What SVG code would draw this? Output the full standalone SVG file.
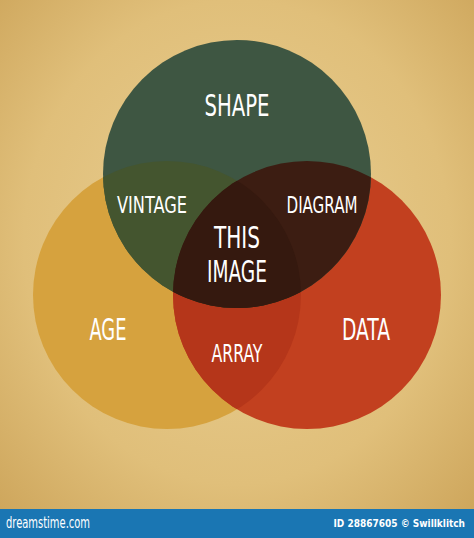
<svg xmlns="http://www.w3.org/2000/svg" width="474" height="538" viewBox="0 0 474 538">
  <defs>
    <radialGradient id="bg" cx="0.5" cy="0.45" r="0.75">
      <stop offset="0" stop-color="#e9cf93"/>
      <stop offset="0.6" stop-color="#e0bf7a"/>
      <stop offset="1" stop-color="#cba257"/>
    </radialGradient>
    <clipPath id="cG"><circle cx="237" cy="174" r="134"/></clipPath>
    <clipPath id="cY"><circle cx="167" cy="295" r="134"/></clipPath>
    <clipPath id="cR"><circle cx="307" cy="295" r="134"/></clipPath>
  </defs>
  <style>
    .lbl { font-family: "DejaVu Sans Condensed", "Liberation Sans Narrow", "DejaVu Sans", sans-serif; font-stretch: condensed; fill: #ffffff; text-anchor: middle; }
  </style>
  <rect width="474" height="538" fill="url(#bg)"/>

  <g id="age-circle">
    <circle cx="167" cy="295" r="134" fill="#d6a23e"/>
  </g>
  <g id="data-circle">
    <circle cx="307" cy="295" r="134" fill="#c2401f"/>
  </g>
  <g id="shape-circle">
    <circle cx="237" cy="174" r="134" fill="#3e5642"/>
  </g>
  <g id="array-overlap">
    <g clip-path="url(#cY)"><circle cx="307" cy="295" r="134" fill="#b5361a"/></g>
  </g>
  <g id="vintage-overlap">
    <g clip-path="url(#cY)"><circle cx="237" cy="174" r="134" fill="#44552f"/></g>
  </g>
  <g id="diagram-overlap">
    <g clip-path="url(#cR)"><circle cx="237" cy="174" r="134" fill="#3c1d12"/></g>
  </g>
  <g id="center-overlap">
    <g clip-path="url(#cR)"><g clip-path="url(#cY)"><circle cx="237" cy="174" r="134" fill="#35190f"/></g></g>
  </g>

  <g id="labels">
    <text class="lbl" x="237" y="116" font-size="30" textLength="65" lengthAdjust="spacingAndGlyphs">SHAPE</text>
    <text class="lbl" x="152" y="213" font-size="23" textLength="70" lengthAdjust="spacingAndGlyphs">VINTAGE</text>
    <text class="lbl" x="322" y="213" font-size="23" textLength="71" lengthAdjust="spacingAndGlyphs">DIAGRAM</text>
    <text class="lbl" x="237" y="248" font-size="31" textLength="46" lengthAdjust="spacingAndGlyphs">THIS</text>
    <text class="lbl" x="237" y="282" font-size="31" textLength="60" lengthAdjust="spacingAndGlyphs">IMAGE</text>
    <text class="lbl" x="108" y="340" font-size="30" textLength="37" lengthAdjust="spacingAndGlyphs">AGE</text>
    <text class="lbl" x="366" y="340" font-size="30" textLength="48" lengthAdjust="spacingAndGlyphs">DATA</text>
    <text class="lbl" x="237" y="362" font-size="24" textLength="51" lengthAdjust="spacingAndGlyphs">ARRAY</text>
  </g>

  <g id="footer">
    <rect x="0" y="509" width="474" height="29" fill="#1a76b3"/>
    <text x="6" y="528" font-family="'DejaVu Sans', sans-serif" font-size="15" fill="#ffffff" textLength="84" lengthAdjust="spacingAndGlyphs">dreamstime.com</text>
    <text x="465" y="527" font-family="'Liberation Sans Narrow', 'DejaVu Sans Condensed', sans-serif" font-weight="bold" font-size="10" fill="#ffffff" text-anchor="end">ID 28867605 © Swillklitch</text>
  </g>
</svg>
